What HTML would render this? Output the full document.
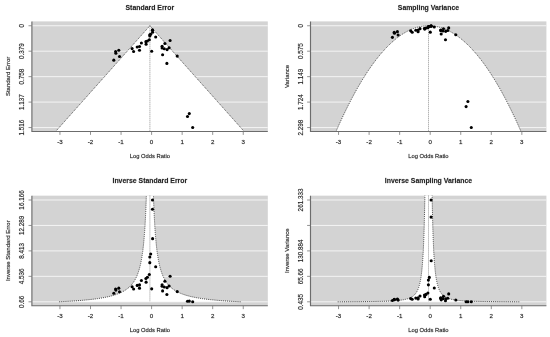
<!DOCTYPE html>
<html><head><meta charset="utf-8"><title>Funnel plots</title>
<style>
html,body{margin:0;padding:0;background:#fff;width:550px;height:337px;overflow:hidden}
svg{display:block}
text{font-family:"Liberation Sans",Arial,sans-serif;fill:#222;stroke:#a0a0a0;stroke-width:0.32px;paint-order:stroke}
.ti{font-size:6.9px;font-weight:bold;text-anchor:middle}
.xl{font-size:6.2px;text-anchor:middle}
.yl{font-size:6.3px;text-anchor:middle}
.xt{font-size:5.8px;text-anchor:middle}
.yt{font-size:6.0px;text-anchor:middle}
circle{fill:#000}
</style></head><body>
<svg width="550" height="337" viewBox="0 0 550 337">
<rect width="550" height="337" fill="#fff"/>
<g transform="translate(0,0)">
<rect x="31.9" y="21.4" width="235.9" height="110.1" fill="#d3d3d3"/>
<line x1="31.9" x2="267.8" y1="25.75" y2="25.75" stroke="#f4f4f4" stroke-width="1"/>
<line x1="31.9" x2="267.8" y1="51.2" y2="51.2" stroke="#f4f4f4" stroke-width="1"/>
<line x1="31.9" x2="267.8" y1="76.65" y2="76.65" stroke="#f4f4f4" stroke-width="1"/>
<line x1="31.9" x2="267.8" y1="102.1" y2="102.1" stroke="#f4f4f4" stroke-width="1"/>
<line x1="31.9" x2="267.8" y1="127.55" y2="127.55" stroke="#f4f4f4" stroke-width="1"/>
<path d="M149.9,25.75 L149.43,26.28 L148.96,26.81 L148.49,27.34 L148.01,27.86 L147.54,28.39 L147.07,28.92 L146.6,29.45 L146.13,29.98 L145.66,30.51 L145.19,31.04 L144.71,31.57 L144.24,32.09 L143.77,32.62 L143.3,33.15 L142.83,33.68 L142.36,34.21 L141.88,34.74 L141.41,35.27 L140.94,35.8 L140.47,36.33 L140,36.85 L139.53,37.38 L139.06,37.91 L138.58,38.44 L138.11,38.97 L137.64,39.5 L137.17,40.03 L136.7,40.55 L136.23,41.08 L135.76,41.61 L135.28,42.14 L134.81,42.67 L134.34,43.2 L133.87,43.73 L133.4,44.26 L132.93,44.78 L132.46,45.31 L131.98,45.84 L131.51,46.37 L131.04,46.9 L130.57,47.43 L130.1,47.96 L129.63,48.49 L129.15,49.02 L128.68,49.54 L128.21,50.07 L127.74,50.6 L127.27,51.13 L126.8,51.66 L126.33,52.19 L125.85,52.72 L125.38,53.25 L124.91,53.77 L124.44,54.3 L123.97,54.83 L123.5,55.36 L123.03,55.89 L122.55,56.42 L122.08,56.95 L121.61,57.47 L121.14,58 L120.67,58.53 L120.2,59.06 L119.72,59.59 L119.25,60.12 L118.78,60.65 L118.31,61.18 L117.84,61.7 L117.37,62.23 L116.9,62.76 L116.42,63.29 L115.95,63.82 L115.48,64.35 L115.01,64.88 L114.54,65.41 L114.07,65.94 L113.6,66.46 L113.12,66.99 L112.65,67.52 L112.18,68.05 L111.71,68.58 L111.24,69.11 L110.77,69.64 L110.3,70.16 L109.82,70.69 L109.35,71.22 L108.88,71.75 L108.41,72.28 L107.94,72.81 L107.47,73.34 L106.99,73.87 L106.52,74.39 L106.05,74.92 L105.58,75.45 L105.11,75.98 L104.64,76.51 L104.17,77.04 L103.69,77.57 L103.22,78.1 L102.75,78.62 L102.28,79.15 L101.81,79.68 L101.34,80.21 L100.87,80.74 L100.39,81.27 L99.92,81.8 L99.45,82.33 L98.98,82.86 L98.51,83.38 L98.04,83.91 L97.57,84.44 L97.09,84.97 L96.62,85.5 L96.15,86.03 L95.68,86.56 L95.21,87.08 L94.74,87.61 L94.26,88.14 L93.79,88.67 L93.32,89.2 L92.85,89.73 L92.38,90.26 L91.91,90.79 L91.44,91.31 L90.96,91.84 L90.49,92.37 L90.02,92.9 L89.55,93.43 L89.08,93.96 L88.61,94.49 L88.14,95.02 L87.66,95.55 L87.19,96.07 L86.72,96.6 L86.25,97.13 L85.78,97.66 L85.31,98.19 L84.83,98.72 L84.36,99.25 L83.89,99.78 L83.42,100.3 L82.95,100.83 L82.48,101.36 L82.01,101.89 L81.53,102.42 L81.06,102.95 L80.59,103.48 L80.12,104 L79.65,104.53 L79.18,105.06 L78.71,105.59 L78.23,106.12 L77.76,106.65 L77.29,107.18 L76.82,107.71 L76.35,108.23 L75.88,108.76 L75.41,109.29 L74.93,109.82 L74.46,110.35 L73.99,110.88 L73.52,111.41 L73.05,111.94 L72.58,112.46 L72.1,112.99 L71.63,113.52 L71.16,114.05 L70.69,114.58 L70.22,115.11 L69.75,115.64 L69.28,116.17 L68.8,116.7 L68.33,117.22 L67.86,117.75 L67.39,118.28 L66.92,118.81 L66.45,119.34 L65.98,119.87 L65.5,120.4 L65.03,120.92 L64.56,121.45 L64.09,121.98 L63.62,122.51 L63.15,123.04 L62.68,123.57 L62.2,124.1 L61.73,124.63 L61.26,125.16 L60.79,125.68 L60.32,126.21 L59.85,126.74 L59.37,127.27 L58.9,127.8 L58.43,128.33 L57.96,128.86 L57.49,129.38 L57.02,129.91 L56.55,130.44 L56.07,130.97 L55.6,131.5 L244.2,131.5 L243.73,130.97 L243.25,130.44 L242.78,129.91 L242.31,129.38 L241.84,128.86 L241.37,128.33 L240.9,127.8 L240.43,127.27 L239.95,126.74 L239.48,126.21 L239.01,125.68 L238.54,125.16 L238.07,124.63 L237.6,124.1 L237.12,123.57 L236.65,123.04 L236.18,122.51 L235.71,121.98 L235.24,121.45 L234.77,120.92 L234.3,120.4 L233.82,119.87 L233.35,119.34 L232.88,118.81 L232.41,118.28 L231.94,117.75 L231.47,117.22 L231,116.7 L230.52,116.17 L230.05,115.64 L229.58,115.11 L229.11,114.58 L228.64,114.05 L228.17,113.52 L227.7,112.99 L227.22,112.46 L226.75,111.94 L226.28,111.41 L225.81,110.88 L225.34,110.35 L224.87,109.82 L224.39,109.29 L223.92,108.76 L223.45,108.23 L222.98,107.71 L222.51,107.18 L222.04,106.65 L221.57,106.12 L221.09,105.59 L220.62,105.06 L220.15,104.53 L219.68,104 L219.21,103.48 L218.74,102.95 L218.27,102.42 L217.79,101.89 L217.32,101.36 L216.85,100.83 L216.38,100.3 L215.91,99.78 L215.44,99.25 L214.97,98.72 L214.49,98.19 L214.02,97.66 L213.55,97.13 L213.08,96.6 L212.61,96.07 L212.14,95.55 L211.66,95.02 L211.19,94.49 L210.72,93.96 L210.25,93.43 L209.78,92.9 L209.31,92.37 L208.84,91.84 L208.36,91.31 L207.89,90.79 L207.42,90.26 L206.95,89.73 L206.48,89.2 L206.01,88.67 L205.54,88.14 L205.06,87.61 L204.59,87.08 L204.12,86.56 L203.65,86.03 L203.18,85.5 L202.71,84.97 L202.23,84.44 L201.76,83.91 L201.29,83.38 L200.82,82.86 L200.35,82.33 L199.88,81.8 L199.41,81.27 L198.93,80.74 L198.46,80.21 L197.99,79.68 L197.52,79.15 L197.05,78.62 L196.58,78.1 L196.11,77.57 L195.63,77.04 L195.16,76.51 L194.69,75.98 L194.22,75.45 L193.75,74.92 L193.28,74.39 L192.81,73.87 L192.33,73.34 L191.86,72.81 L191.39,72.28 L190.92,71.75 L190.45,71.22 L189.98,70.69 L189.5,70.16 L189.03,69.64 L188.56,69.11 L188.09,68.58 L187.62,68.05 L187.15,67.52 L186.68,66.99 L186.2,66.46 L185.73,65.94 L185.26,65.41 L184.79,64.88 L184.32,64.35 L183.85,63.82 L183.38,63.29 L182.9,62.76 L182.43,62.23 L181.96,61.7 L181.49,61.18 L181.02,60.65 L180.55,60.12 L180.08,59.59 L179.6,59.06 L179.13,58.53 L178.66,58 L178.19,57.47 L177.72,56.95 L177.25,56.42 L176.77,55.89 L176.3,55.36 L175.83,54.83 L175.36,54.3 L174.89,53.77 L174.42,53.25 L173.95,52.72 L173.47,52.19 L173,51.66 L172.53,51.13 L172.06,50.6 L171.59,50.07 L171.12,49.54 L170.65,49.02 L170.17,48.49 L169.7,47.96 L169.23,47.43 L168.76,46.9 L168.29,46.37 L167.82,45.84 L167.34,45.31 L166.87,44.78 L166.4,44.26 L165.93,43.73 L165.46,43.2 L164.99,42.67 L164.52,42.14 L164.04,41.61 L163.57,41.08 L163.1,40.55 L162.63,40.03 L162.16,39.5 L161.69,38.97 L161.22,38.44 L160.74,37.91 L160.27,37.38 L159.8,36.85 L159.33,36.33 L158.86,35.8 L158.39,35.27 L157.92,34.74 L157.44,34.21 L156.97,33.68 L156.5,33.15 L156.03,32.62 L155.56,32.09 L155.09,31.57 L154.61,31.04 L154.14,30.51 L153.67,29.98 L153.2,29.45 L152.73,28.92 L152.26,28.39 L151.79,27.86 L151.31,27.34 L150.84,26.81 L150.37,26.28 L149.9,25.75Z" fill="#fff"/>
<path d="M149.9,25.75 L149.43,26.28 L148.96,26.81 L148.49,27.34 L148.01,27.86 L147.54,28.39 L147.07,28.92 L146.6,29.45 L146.13,29.98 L145.66,30.51 L145.19,31.04 L144.71,31.57 L144.24,32.09 L143.77,32.62 L143.3,33.15 L142.83,33.68 L142.36,34.21 L141.88,34.74 L141.41,35.27 L140.94,35.8 L140.47,36.33 L140,36.85 L139.53,37.38 L139.06,37.91 L138.58,38.44 L138.11,38.97 L137.64,39.5 L137.17,40.03 L136.7,40.55 L136.23,41.08 L135.76,41.61 L135.28,42.14 L134.81,42.67 L134.34,43.2 L133.87,43.73 L133.4,44.26 L132.93,44.78 L132.46,45.31 L131.98,45.84 L131.51,46.37 L131.04,46.9 L130.57,47.43 L130.1,47.96 L129.63,48.49 L129.15,49.02 L128.68,49.54 L128.21,50.07 L127.74,50.6 L127.27,51.13 L126.8,51.66 L126.33,52.19 L125.85,52.72 L125.38,53.25 L124.91,53.77 L124.44,54.3 L123.97,54.83 L123.5,55.36 L123.03,55.89 L122.55,56.42 L122.08,56.95 L121.61,57.47 L121.14,58 L120.67,58.53 L120.2,59.06 L119.72,59.59 L119.25,60.12 L118.78,60.65 L118.31,61.18 L117.84,61.7 L117.37,62.23 L116.9,62.76 L116.42,63.29 L115.95,63.82 L115.48,64.35 L115.01,64.88 L114.54,65.41 L114.07,65.94 L113.6,66.46 L113.12,66.99 L112.65,67.52 L112.18,68.05 L111.71,68.58 L111.24,69.11 L110.77,69.64 L110.3,70.16 L109.82,70.69 L109.35,71.22 L108.88,71.75 L108.41,72.28 L107.94,72.81 L107.47,73.34 L106.99,73.87 L106.52,74.39 L106.05,74.92 L105.58,75.45 L105.11,75.98 L104.64,76.51 L104.17,77.04 L103.69,77.57 L103.22,78.1 L102.75,78.62 L102.28,79.15 L101.81,79.68 L101.34,80.21 L100.87,80.74 L100.39,81.27 L99.92,81.8 L99.45,82.33 L98.98,82.86 L98.51,83.38 L98.04,83.91 L97.57,84.44 L97.09,84.97 L96.62,85.5 L96.15,86.03 L95.68,86.56 L95.21,87.08 L94.74,87.61 L94.26,88.14 L93.79,88.67 L93.32,89.2 L92.85,89.73 L92.38,90.26 L91.91,90.79 L91.44,91.31 L90.96,91.84 L90.49,92.37 L90.02,92.9 L89.55,93.43 L89.08,93.96 L88.61,94.49 L88.14,95.02 L87.66,95.55 L87.19,96.07 L86.72,96.6 L86.25,97.13 L85.78,97.66 L85.31,98.19 L84.83,98.72 L84.36,99.25 L83.89,99.78 L83.42,100.3 L82.95,100.83 L82.48,101.36 L82.01,101.89 L81.53,102.42 L81.06,102.95 L80.59,103.48 L80.12,104 L79.65,104.53 L79.18,105.06 L78.71,105.59 L78.23,106.12 L77.76,106.65 L77.29,107.18 L76.82,107.71 L76.35,108.23 L75.88,108.76 L75.41,109.29 L74.93,109.82 L74.46,110.35 L73.99,110.88 L73.52,111.41 L73.05,111.94 L72.58,112.46 L72.1,112.99 L71.63,113.52 L71.16,114.05 L70.69,114.58 L70.22,115.11 L69.75,115.64 L69.28,116.17 L68.8,116.7 L68.33,117.22 L67.86,117.75 L67.39,118.28 L66.92,118.81 L66.45,119.34 L65.98,119.87 L65.5,120.4 L65.03,120.92 L64.56,121.45 L64.09,121.98 L63.62,122.51 L63.15,123.04 L62.68,123.57 L62.2,124.1 L61.73,124.63 L61.26,125.16 L60.79,125.68 L60.32,126.21 L59.85,126.74 L59.37,127.27 L58.9,127.8 L58.43,128.33 L57.96,128.86 L57.49,129.38 L57.02,129.91 L56.55,130.44 L56.07,130.97 L55.6,131.5" fill="none" stroke="#3a3a3a" stroke-width="0.95" stroke-dasharray="1,1.1"/>
<path d="M149.9,25.75 L150.37,26.28 L150.84,26.81 L151.31,27.34 L151.79,27.86 L152.26,28.39 L152.73,28.92 L153.2,29.45 L153.67,29.98 L154.14,30.51 L154.61,31.04 L155.09,31.57 L155.56,32.09 L156.03,32.62 L156.5,33.15 L156.97,33.68 L157.44,34.21 L157.92,34.74 L158.39,35.27 L158.86,35.8 L159.33,36.33 L159.8,36.85 L160.27,37.38 L160.74,37.91 L161.22,38.44 L161.69,38.97 L162.16,39.5 L162.63,40.03 L163.1,40.55 L163.57,41.08 L164.04,41.61 L164.52,42.14 L164.99,42.67 L165.46,43.2 L165.93,43.73 L166.4,44.26 L166.87,44.78 L167.34,45.31 L167.82,45.84 L168.29,46.37 L168.76,46.9 L169.23,47.43 L169.7,47.96 L170.17,48.49 L170.65,49.02 L171.12,49.54 L171.59,50.07 L172.06,50.6 L172.53,51.13 L173,51.66 L173.47,52.19 L173.95,52.72 L174.42,53.25 L174.89,53.77 L175.36,54.3 L175.83,54.83 L176.3,55.36 L176.77,55.89 L177.25,56.42 L177.72,56.95 L178.19,57.47 L178.66,58 L179.13,58.53 L179.6,59.06 L180.08,59.59 L180.55,60.12 L181.02,60.65 L181.49,61.18 L181.96,61.7 L182.43,62.23 L182.9,62.76 L183.38,63.29 L183.85,63.82 L184.32,64.35 L184.79,64.88 L185.26,65.41 L185.73,65.94 L186.2,66.46 L186.68,66.99 L187.15,67.52 L187.62,68.05 L188.09,68.58 L188.56,69.11 L189.03,69.64 L189.5,70.16 L189.98,70.69 L190.45,71.22 L190.92,71.75 L191.39,72.28 L191.86,72.81 L192.33,73.34 L192.81,73.87 L193.28,74.39 L193.75,74.92 L194.22,75.45 L194.69,75.98 L195.16,76.51 L195.63,77.04 L196.11,77.57 L196.58,78.1 L197.05,78.62 L197.52,79.15 L197.99,79.68 L198.46,80.21 L198.93,80.74 L199.41,81.27 L199.88,81.8 L200.35,82.33 L200.82,82.86 L201.29,83.38 L201.76,83.91 L202.23,84.44 L202.71,84.97 L203.18,85.5 L203.65,86.03 L204.12,86.56 L204.59,87.08 L205.06,87.61 L205.54,88.14 L206.01,88.67 L206.48,89.2 L206.95,89.73 L207.42,90.26 L207.89,90.79 L208.36,91.31 L208.84,91.84 L209.31,92.37 L209.78,92.9 L210.25,93.43 L210.72,93.96 L211.19,94.49 L211.66,95.02 L212.14,95.55 L212.61,96.07 L213.08,96.6 L213.55,97.13 L214.02,97.66 L214.49,98.19 L214.97,98.72 L215.44,99.25 L215.91,99.78 L216.38,100.3 L216.85,100.83 L217.32,101.36 L217.79,101.89 L218.27,102.42 L218.74,102.95 L219.21,103.48 L219.68,104 L220.15,104.53 L220.62,105.06 L221.09,105.59 L221.57,106.12 L222.04,106.65 L222.51,107.18 L222.98,107.71 L223.45,108.23 L223.92,108.76 L224.39,109.29 L224.87,109.82 L225.34,110.35 L225.81,110.88 L226.28,111.41 L226.75,111.94 L227.22,112.46 L227.7,112.99 L228.17,113.52 L228.64,114.05 L229.11,114.58 L229.58,115.11 L230.05,115.64 L230.52,116.17 L231,116.7 L231.47,117.22 L231.94,117.75 L232.41,118.28 L232.88,118.81 L233.35,119.34 L233.82,119.87 L234.3,120.4 L234.77,120.92 L235.24,121.45 L235.71,121.98 L236.18,122.51 L236.65,123.04 L237.12,123.57 L237.6,124.1 L238.07,124.63 L238.54,125.16 L239.01,125.68 L239.48,126.21 L239.95,126.74 L240.43,127.27 L240.9,127.8 L241.37,128.33 L241.84,128.86 L242.31,129.38 L242.78,129.91 L243.25,130.44 L243.73,130.97 L244.2,131.5" fill="none" stroke="#3a3a3a" stroke-width="0.95" stroke-dasharray="1,1.1"/>
<line x1="149.9" x2="149.9" y1="25.75" y2="131.5" stroke="#555" stroke-width="0.8" stroke-dasharray="0.8,1.2"/>
<path d="M31.9,21.4 L31.9,131.5 L267.8,131.5" fill="none" stroke="#6c6c6c" stroke-width="1.15"/>
<line x1="28.5" x2="31.9" y1="25.75" y2="25.75" stroke="#777" stroke-width="0.8"/>
<text class="yl" transform="translate(24.2,25.75) rotate(-90)">0</text>
<line x1="28.5" x2="31.9" y1="51.2" y2="51.2" stroke="#777" stroke-width="0.8"/>
<text class="yl" transform="translate(24.2,51.2) rotate(-90)">0.379</text>
<line x1="28.5" x2="31.9" y1="76.65" y2="76.65" stroke="#777" stroke-width="0.8"/>
<text class="yl" transform="translate(24.2,76.65) rotate(-90)">0.758</text>
<line x1="28.5" x2="31.9" y1="102.1" y2="102.1" stroke="#777" stroke-width="0.8"/>
<text class="yl" transform="translate(24.2,102.1) rotate(-90)">1.137</text>
<line x1="28.5" x2="31.9" y1="127.55" y2="127.55" stroke="#777" stroke-width="0.8"/>
<text class="yl" transform="translate(24.2,127.55) rotate(-90)">1.516</text>
<line x1="59.95" x2="59.95" y1="131.5" y2="134.9" stroke="#777" stroke-width="0.8"/>
<text class="xl" x="59.95" y="143.9">-3</text>
<line x1="90.5" x2="90.5" y1="131.5" y2="134.9" stroke="#777" stroke-width="0.8"/>
<text class="xl" x="90.5" y="143.9">-2</text>
<line x1="121.05" x2="121.05" y1="131.5" y2="134.9" stroke="#777" stroke-width="0.8"/>
<text class="xl" x="121.05" y="143.9">-1</text>
<line x1="151.6" x2="151.6" y1="131.5" y2="134.9" stroke="#777" stroke-width="0.8"/>
<text class="xl" x="151.6" y="143.9">0</text>
<line x1="182.15" x2="182.15" y1="131.5" y2="134.9" stroke="#777" stroke-width="0.8"/>
<text class="xl" x="182.15" y="143.9">1</text>
<line x1="212.7" x2="212.7" y1="131.5" y2="134.9" stroke="#777" stroke-width="0.8"/>
<text class="xl" x="212.7" y="143.9">2</text>
<line x1="243.25" x2="243.25" y1="131.5" y2="134.9" stroke="#777" stroke-width="0.8"/>
<text class="xl" x="243.25" y="143.9">3</text>
<text class="xt" x="149.85" y="158.2">Log Odds Ratio</text>
<text class="yt" transform="translate(10.2,76.45) rotate(-90)">Standard Error</text>
<text class="ti" x="149.85" y="10.0">Standard Error</text>
<circle cx="152.49" cy="29.9" r="1.55"/>
<circle cx="152.49" cy="30.3" r="1.55"/>
<circle cx="152.61" cy="32.28" r="1.55"/>
<circle cx="150.71" cy="34.21" r="1.55"/>
<circle cx="149.8" cy="34.71" r="1.55"/>
<circle cx="149.8" cy="35.89" r="1.55"/>
<circle cx="155.69" cy="36.96" r="1.55"/>
<circle cx="149.31" cy="39.72" r="1.55"/>
<circle cx="147.41" cy="40.99" r="1.55"/>
<circle cx="145.89" cy="41.66" r="1.55"/>
<circle cx="141.4" cy="42.94" r="1.55"/>
<circle cx="146.1" cy="44.15" r="1.55"/>
<circle cx="151.69" cy="51.27" r="1.55"/>
<circle cx="132.11" cy="48.58" r="1.55"/>
<circle cx="133.61" cy="51.47" r="1.55"/>
<circle cx="137.21" cy="47.04" r="1.55"/>
<circle cx="139.5" cy="46.5" r="1.55"/>
<circle cx="139.5" cy="50.26" r="1.55"/>
<circle cx="118.79" cy="50.26" r="1.55"/>
<circle cx="115.61" cy="51.47" r="1.55"/>
<circle cx="115.89" cy="53.28" r="1.55"/>
<circle cx="119.52" cy="56.5" r="1.55"/>
<circle cx="113.81" cy="60.13" r="1.55"/>
<circle cx="170.11" cy="40.52" r="1.55"/>
<circle cx="164.89" cy="43.48" r="1.55"/>
<circle cx="164.31" cy="48.72" r="1.55"/>
<circle cx="162.11" cy="46.37" r="1.55"/>
<circle cx="162.11" cy="47.98" r="1.55"/>
<circle cx="167.09" cy="49.59" r="1.55"/>
<circle cx="169.11" cy="47.71" r="1.55"/>
<circle cx="162.6" cy="54.69" r="1.55"/>
<circle cx="177.2" cy="56.1" r="1.55"/>
<circle cx="166.88" cy="63.42" r="1.55"/>
<circle cx="189.3" cy="113.58" r="1.55"/>
<circle cx="187.5" cy="116.47" r="1.55"/>
<circle cx="192.69" cy="127.54" r="1.55"/>
</g>
<g transform="translate(278.6,0)">
<rect x="31.9" y="21.4" width="235.9" height="110.1" fill="#d3d3d3"/>
<line x1="31.9" x2="267.8" y1="25.75" y2="25.75" stroke="#f4f4f4" stroke-width="1"/>
<line x1="31.9" x2="267.8" y1="51.2" y2="51.2" stroke="#f4f4f4" stroke-width="1"/>
<line x1="31.9" x2="267.8" y1="76.65" y2="76.65" stroke="#f4f4f4" stroke-width="1"/>
<line x1="31.9" x2="267.8" y1="102.1" y2="102.1" stroke="#f4f4f4" stroke-width="1"/>
<line x1="31.9" x2="267.8" y1="127.55" y2="127.55" stroke="#f4f4f4" stroke-width="1"/>
<path d="M149.9,25.75 L149.44,25.75 L148.97,25.76 L148.51,25.77 L148.05,25.79 L147.59,25.82 L147.12,25.85 L146.66,25.88 L146.2,25.92 L145.74,25.96 L145.27,26.01 L144.81,26.07 L144.35,26.13 L143.89,26.2 L143.42,26.27 L142.96,26.34 L142.5,26.43 L142.04,26.51 L141.57,26.61 L141.11,26.7 L140.65,26.81 L140.19,26.92 L139.72,27.03 L139.26,27.15 L138.8,27.27 L138.34,27.4 L137.87,27.54 L137.41,27.68 L136.95,27.82 L136.49,27.97 L136.02,28.13 L135.56,28.29 L135.1,28.46 L134.64,28.63 L134.17,28.81 L133.71,28.99 L133.25,29.18 L132.78,29.37 L132.32,29.57 L131.86,29.77 L131.4,29.98 L130.93,30.19 L130.47,30.41 L130.01,30.64 L129.55,30.87 L129.08,31.1 L128.62,31.34 L128.16,31.59 L127.7,31.84 L127.23,32.1 L126.77,32.36 L126.31,32.63 L125.85,32.9 L125.38,33.18 L124.92,33.46 L124.46,33.75 L124,34.04 L123.53,34.34 L123.07,34.64 L122.61,34.95 L122.15,35.27 L121.68,35.59 L121.22,35.91 L120.76,36.24 L120.3,36.58 L119.83,36.92 L119.37,37.27 L118.91,37.62 L118.45,37.97 L117.98,38.34 L117.52,38.7 L117.06,39.08 L116.59,39.46 L116.13,39.84 L115.67,40.23 L115.21,40.62 L114.74,41.02 L114.28,41.42 L113.82,41.83 L113.36,42.25 L112.89,42.67 L112.43,43.1 L111.97,43.53 L111.51,43.96 L111.04,44.4 L110.58,44.85 L110.12,45.3 L109.66,45.76 L109.19,46.22 L108.73,46.69 L108.27,47.16 L107.81,47.64 L107.34,48.13 L106.88,48.62 L106.42,49.11 L105.96,49.61 L105.49,50.11 L105.03,50.63 L104.57,51.14 L104.11,51.66 L103.64,52.19 L103.18,52.72 L102.72,53.26 L102.26,53.8 L101.79,54.34 L101.33,54.9 L100.87,55.46 L100.4,56.02 L99.94,56.59 L99.48,57.16 L99.02,57.74 L98.55,58.32 L98.09,58.91 L97.63,59.51 L97.17,60.11 L96.7,60.71 L96.24,61.32 L95.78,61.94 L95.32,62.56 L94.85,63.19 L94.39,63.82 L93.93,64.46 L93.47,65.1 L93,65.75 L92.54,66.4 L92.08,67.06 L91.62,67.72 L91.15,68.39 L90.69,69.07 L90.23,69.74 L89.77,70.43 L89.3,71.12 L88.84,71.81 L88.38,72.52 L87.92,73.22 L87.45,73.93 L86.99,74.65 L86.53,75.37 L86.07,76.1 L85.6,76.83 L85.14,77.57 L84.68,78.31 L84.21,79.06 L83.75,79.81 L83.29,80.57 L82.83,81.33 L82.36,82.1 L81.9,82.88 L81.44,83.66 L80.98,84.44 L80.51,85.23 L80.05,86.03 L79.59,86.83 L79.13,87.64 L78.66,88.45 L78.2,89.27 L77.74,90.09 L77.28,90.92 L76.81,91.75 L76.35,92.59 L75.89,93.43 L75.43,94.28 L74.96,95.13 L74.5,95.99 L74.04,96.86 L73.58,97.73 L73.11,98.6 L72.65,99.48 L72.19,100.37 L71.73,101.26 L71.26,102.15 L70.8,103.06 L70.34,103.96 L69.88,104.87 L69.41,105.79 L68.95,106.71 L68.49,107.64 L68.02,108.58 L67.56,109.51 L67.1,110.46 L66.64,111.41 L66.17,112.36 L65.71,113.32 L65.25,114.29 L64.79,115.26 L64.32,116.23 L63.86,117.21 L63.4,118.2 L62.94,119.19 L62.47,120.19 L62.01,121.19 L61.55,122.2 L61.09,123.21 L60.62,124.23 L60.16,125.25 L59.7,126.28 L59.24,127.31 L58.77,128.35 L58.31,129.4 L57.85,130.45 L57.39,131.5 L242.41,131.5 L241.95,130.45 L241.49,129.4 L241.03,128.35 L240.56,127.31 L240.1,126.28 L239.64,125.25 L239.18,124.23 L238.71,123.21 L238.25,122.2 L237.79,121.19 L237.33,120.19 L236.86,119.19 L236.4,118.2 L235.94,117.21 L235.48,116.23 L235.01,115.26 L234.55,114.29 L234.09,113.32 L233.63,112.36 L233.16,111.41 L232.7,110.46 L232.24,109.51 L231.78,108.58 L231.31,107.64 L230.85,106.71 L230.39,105.79 L229.92,104.87 L229.46,103.96 L229,103.06 L228.54,102.15 L228.07,101.26 L227.61,100.37 L227.15,99.48 L226.69,98.6 L226.22,97.73 L225.76,96.86 L225.3,95.99 L224.84,95.13 L224.37,94.28 L223.91,93.43 L223.45,92.59 L222.99,91.75 L222.52,90.92 L222.06,90.09 L221.6,89.27 L221.14,88.45 L220.67,87.64 L220.21,86.83 L219.75,86.03 L219.29,85.23 L218.82,84.44 L218.36,83.66 L217.9,82.88 L217.44,82.1 L216.97,81.33 L216.51,80.57 L216.05,79.81 L215.59,79.06 L215.12,78.31 L214.66,77.57 L214.2,76.83 L213.73,76.1 L213.27,75.37 L212.81,74.65 L212.35,73.93 L211.88,73.22 L211.42,72.52 L210.96,71.81 L210.5,71.12 L210.03,70.43 L209.57,69.74 L209.11,69.07 L208.65,68.39 L208.18,67.72 L207.72,67.06 L207.26,66.4 L206.8,65.75 L206.33,65.1 L205.87,64.46 L205.41,63.82 L204.95,63.19 L204.48,62.56 L204.02,61.94 L203.56,61.32 L203.1,60.71 L202.63,60.11 L202.17,59.51 L201.71,58.91 L201.25,58.32 L200.78,57.74 L200.32,57.16 L199.86,56.59 L199.4,56.02 L198.93,55.46 L198.47,54.9 L198.01,54.34 L197.54,53.8 L197.08,53.26 L196.62,52.72 L196.16,52.19 L195.69,51.66 L195.23,51.14 L194.77,50.63 L194.31,50.11 L193.84,49.61 L193.38,49.11 L192.92,48.62 L192.46,48.13 L191.99,47.64 L191.53,47.16 L191.07,46.69 L190.61,46.22 L190.14,45.76 L189.68,45.3 L189.22,44.85 L188.76,44.4 L188.29,43.96 L187.83,43.53 L187.37,43.1 L186.91,42.67 L186.44,42.25 L185.98,41.83 L185.52,41.42 L185.06,41.02 L184.59,40.62 L184.13,40.23 L183.67,39.84 L183.21,39.46 L182.74,39.08 L182.28,38.7 L181.82,38.34 L181.35,37.97 L180.89,37.62 L180.43,37.27 L179.97,36.92 L179.5,36.58 L179.04,36.24 L178.58,35.91 L178.12,35.59 L177.65,35.27 L177.19,34.95 L176.73,34.64 L176.27,34.34 L175.8,34.04 L175.34,33.75 L174.88,33.46 L174.42,33.18 L173.95,32.9 L173.49,32.63 L173.03,32.36 L172.57,32.1 L172.1,31.84 L171.64,31.59 L171.18,31.34 L170.72,31.1 L170.25,30.87 L169.79,30.64 L169.33,30.41 L168.87,30.19 L168.4,29.98 L167.94,29.77 L167.48,29.57 L167.02,29.37 L166.55,29.18 L166.09,28.99 L165.63,28.81 L165.16,28.63 L164.7,28.46 L164.24,28.29 L163.78,28.13 L163.31,27.97 L162.85,27.82 L162.39,27.68 L161.93,27.54 L161.46,27.4 L161,27.27 L160.54,27.15 L160.08,27.03 L159.61,26.92 L159.15,26.81 L158.69,26.7 L158.23,26.61 L157.76,26.51 L157.3,26.43 L156.84,26.34 L156.38,26.27 L155.91,26.2 L155.45,26.13 L154.99,26.07 L154.53,26.01 L154.06,25.96 L153.6,25.92 L153.14,25.88 L152.68,25.85 L152.21,25.82 L151.75,25.79 L151.29,25.77 L150.83,25.76 L150.36,25.75 L149.9,25.75Z" fill="#fff"/>
<path d="M149.9,25.75 L149.44,25.75 L148.97,25.76 L148.51,25.77 L148.05,25.79 L147.59,25.82 L147.12,25.85 L146.66,25.88 L146.2,25.92 L145.74,25.96 L145.27,26.01 L144.81,26.07 L144.35,26.13 L143.89,26.2 L143.42,26.27 L142.96,26.34 L142.5,26.43 L142.04,26.51 L141.57,26.61 L141.11,26.7 L140.65,26.81 L140.19,26.92 L139.72,27.03 L139.26,27.15 L138.8,27.27 L138.34,27.4 L137.87,27.54 L137.41,27.68 L136.95,27.82 L136.49,27.97 L136.02,28.13 L135.56,28.29 L135.1,28.46 L134.64,28.63 L134.17,28.81 L133.71,28.99 L133.25,29.18 L132.78,29.37 L132.32,29.57 L131.86,29.77 L131.4,29.98 L130.93,30.19 L130.47,30.41 L130.01,30.64 L129.55,30.87 L129.08,31.1 L128.62,31.34 L128.16,31.59 L127.7,31.84 L127.23,32.1 L126.77,32.36 L126.31,32.63 L125.85,32.9 L125.38,33.18 L124.92,33.46 L124.46,33.75 L124,34.04 L123.53,34.34 L123.07,34.64 L122.61,34.95 L122.15,35.27 L121.68,35.59 L121.22,35.91 L120.76,36.24 L120.3,36.58 L119.83,36.92 L119.37,37.27 L118.91,37.62 L118.45,37.97 L117.98,38.34 L117.52,38.7 L117.06,39.08 L116.59,39.46 L116.13,39.84 L115.67,40.23 L115.21,40.62 L114.74,41.02 L114.28,41.42 L113.82,41.83 L113.36,42.25 L112.89,42.67 L112.43,43.1 L111.97,43.53 L111.51,43.96 L111.04,44.4 L110.58,44.85 L110.12,45.3 L109.66,45.76 L109.19,46.22 L108.73,46.69 L108.27,47.16 L107.81,47.64 L107.34,48.13 L106.88,48.62 L106.42,49.11 L105.96,49.61 L105.49,50.11 L105.03,50.63 L104.57,51.14 L104.11,51.66 L103.64,52.19 L103.18,52.72 L102.72,53.26 L102.26,53.8 L101.79,54.34 L101.33,54.9 L100.87,55.46 L100.4,56.02 L99.94,56.59 L99.48,57.16 L99.02,57.74 L98.55,58.32 L98.09,58.91 L97.63,59.51 L97.17,60.11 L96.7,60.71 L96.24,61.32 L95.78,61.94 L95.32,62.56 L94.85,63.19 L94.39,63.82 L93.93,64.46 L93.47,65.1 L93,65.75 L92.54,66.4 L92.08,67.06 L91.62,67.72 L91.15,68.39 L90.69,69.07 L90.23,69.74 L89.77,70.43 L89.3,71.12 L88.84,71.81 L88.38,72.52 L87.92,73.22 L87.45,73.93 L86.99,74.65 L86.53,75.37 L86.07,76.1 L85.6,76.83 L85.14,77.57 L84.68,78.31 L84.21,79.06 L83.75,79.81 L83.29,80.57 L82.83,81.33 L82.36,82.1 L81.9,82.88 L81.44,83.66 L80.98,84.44 L80.51,85.23 L80.05,86.03 L79.59,86.83 L79.13,87.64 L78.66,88.45 L78.2,89.27 L77.74,90.09 L77.28,90.92 L76.81,91.75 L76.35,92.59 L75.89,93.43 L75.43,94.28 L74.96,95.13 L74.5,95.99 L74.04,96.86 L73.58,97.73 L73.11,98.6 L72.65,99.48 L72.19,100.37 L71.73,101.26 L71.26,102.15 L70.8,103.06 L70.34,103.96 L69.88,104.87 L69.41,105.79 L68.95,106.71 L68.49,107.64 L68.02,108.58 L67.56,109.51 L67.1,110.46 L66.64,111.41 L66.17,112.36 L65.71,113.32 L65.25,114.29 L64.79,115.26 L64.32,116.23 L63.86,117.21 L63.4,118.2 L62.94,119.19 L62.47,120.19 L62.01,121.19 L61.55,122.2 L61.09,123.21 L60.62,124.23 L60.16,125.25 L59.7,126.28 L59.24,127.31 L58.77,128.35 L58.31,129.4 L57.85,130.45 L57.39,131.5" fill="none" stroke="#3a3a3a" stroke-width="0.95" stroke-dasharray="1,1.1"/>
<path d="M149.9,25.75 L150.36,25.75 L150.83,25.76 L151.29,25.77 L151.75,25.79 L152.21,25.82 L152.68,25.85 L153.14,25.88 L153.6,25.92 L154.06,25.96 L154.53,26.01 L154.99,26.07 L155.45,26.13 L155.91,26.2 L156.38,26.27 L156.84,26.34 L157.3,26.43 L157.76,26.51 L158.23,26.61 L158.69,26.7 L159.15,26.81 L159.61,26.92 L160.08,27.03 L160.54,27.15 L161,27.27 L161.46,27.4 L161.93,27.54 L162.39,27.68 L162.85,27.82 L163.31,27.97 L163.78,28.13 L164.24,28.29 L164.7,28.46 L165.16,28.63 L165.63,28.81 L166.09,28.99 L166.55,29.18 L167.02,29.37 L167.48,29.57 L167.94,29.77 L168.4,29.98 L168.87,30.19 L169.33,30.41 L169.79,30.64 L170.25,30.87 L170.72,31.1 L171.18,31.34 L171.64,31.59 L172.1,31.84 L172.57,32.1 L173.03,32.36 L173.49,32.63 L173.95,32.9 L174.42,33.18 L174.88,33.46 L175.34,33.75 L175.8,34.04 L176.27,34.34 L176.73,34.64 L177.19,34.95 L177.65,35.27 L178.12,35.59 L178.58,35.91 L179.04,36.24 L179.5,36.58 L179.97,36.92 L180.43,37.27 L180.89,37.62 L181.35,37.97 L181.82,38.34 L182.28,38.7 L182.74,39.08 L183.21,39.46 L183.67,39.84 L184.13,40.23 L184.59,40.62 L185.06,41.02 L185.52,41.42 L185.98,41.83 L186.44,42.25 L186.91,42.67 L187.37,43.1 L187.83,43.53 L188.29,43.96 L188.76,44.4 L189.22,44.85 L189.68,45.3 L190.14,45.76 L190.61,46.22 L191.07,46.69 L191.53,47.16 L191.99,47.64 L192.46,48.13 L192.92,48.62 L193.38,49.11 L193.84,49.61 L194.31,50.11 L194.77,50.63 L195.23,51.14 L195.69,51.66 L196.16,52.19 L196.62,52.72 L197.08,53.26 L197.54,53.8 L198.01,54.34 L198.47,54.9 L198.93,55.46 L199.4,56.02 L199.86,56.59 L200.32,57.16 L200.78,57.74 L201.25,58.32 L201.71,58.91 L202.17,59.51 L202.63,60.11 L203.1,60.71 L203.56,61.32 L204.02,61.94 L204.48,62.56 L204.95,63.19 L205.41,63.82 L205.87,64.46 L206.33,65.1 L206.8,65.75 L207.26,66.4 L207.72,67.06 L208.18,67.72 L208.65,68.39 L209.11,69.07 L209.57,69.74 L210.03,70.43 L210.5,71.12 L210.96,71.81 L211.42,72.52 L211.88,73.22 L212.35,73.93 L212.81,74.65 L213.27,75.37 L213.73,76.1 L214.2,76.83 L214.66,77.57 L215.12,78.31 L215.59,79.06 L216.05,79.81 L216.51,80.57 L216.97,81.33 L217.44,82.1 L217.9,82.88 L218.36,83.66 L218.82,84.44 L219.29,85.23 L219.75,86.03 L220.21,86.83 L220.67,87.64 L221.14,88.45 L221.6,89.27 L222.06,90.09 L222.52,90.92 L222.99,91.75 L223.45,92.59 L223.91,93.43 L224.37,94.28 L224.84,95.13 L225.3,95.99 L225.76,96.86 L226.22,97.73 L226.69,98.6 L227.15,99.48 L227.61,100.37 L228.07,101.26 L228.54,102.15 L229,103.06 L229.46,103.96 L229.92,104.87 L230.39,105.79 L230.85,106.71 L231.31,107.64 L231.78,108.58 L232.24,109.51 L232.7,110.46 L233.16,111.41 L233.63,112.36 L234.09,113.32 L234.55,114.29 L235.01,115.26 L235.48,116.23 L235.94,117.21 L236.4,118.2 L236.86,119.19 L237.33,120.19 L237.79,121.19 L238.25,122.2 L238.71,123.21 L239.18,124.23 L239.64,125.25 L240.1,126.28 L240.56,127.31 L241.03,128.35 L241.49,129.4 L241.95,130.45 L242.41,131.5" fill="none" stroke="#3a3a3a" stroke-width="0.95" stroke-dasharray="1,1.1"/>
<line x1="149.9" x2="149.9" y1="25.75" y2="131.5" stroke="#555" stroke-width="0.8" stroke-dasharray="0.8,1.2"/>
<path d="M31.9,21.4 L31.9,131.5 L267.8,131.5" fill="none" stroke="#6c6c6c" stroke-width="1.15"/>
<line x1="28.5" x2="31.9" y1="25.75" y2="25.75" stroke="#777" stroke-width="0.8"/>
<text class="yl" transform="translate(24.2,25.75) rotate(-90)">0</text>
<line x1="28.5" x2="31.9" y1="51.2" y2="51.2" stroke="#777" stroke-width="0.8"/>
<text class="yl" transform="translate(24.2,51.2) rotate(-90)">0.575</text>
<line x1="28.5" x2="31.9" y1="76.65" y2="76.65" stroke="#777" stroke-width="0.8"/>
<text class="yl" transform="translate(24.2,76.65) rotate(-90)">1.149</text>
<line x1="28.5" x2="31.9" y1="102.1" y2="102.1" stroke="#777" stroke-width="0.8"/>
<text class="yl" transform="translate(24.2,102.1) rotate(-90)">1.724</text>
<line x1="28.5" x2="31.9" y1="127.55" y2="127.55" stroke="#777" stroke-width="0.8"/>
<text class="yl" transform="translate(24.2,127.55) rotate(-90)">2.298</text>
<line x1="59.95" x2="59.95" y1="131.5" y2="134.9" stroke="#777" stroke-width="0.8"/>
<text class="xl" x="59.95" y="143.9">-3</text>
<line x1="90.5" x2="90.5" y1="131.5" y2="134.9" stroke="#777" stroke-width="0.8"/>
<text class="xl" x="90.5" y="143.9">-2</text>
<line x1="121.05" x2="121.05" y1="131.5" y2="134.9" stroke="#777" stroke-width="0.8"/>
<text class="xl" x="121.05" y="143.9">-1</text>
<line x1="151.6" x2="151.6" y1="131.5" y2="134.9" stroke="#777" stroke-width="0.8"/>
<text class="xl" x="151.6" y="143.9">0</text>
<line x1="182.15" x2="182.15" y1="131.5" y2="134.9" stroke="#777" stroke-width="0.8"/>
<text class="xl" x="182.15" y="143.9">1</text>
<line x1="212.7" x2="212.7" y1="131.5" y2="134.9" stroke="#777" stroke-width="0.8"/>
<text class="xl" x="212.7" y="143.9">2</text>
<line x1="243.25" x2="243.25" y1="131.5" y2="134.9" stroke="#777" stroke-width="0.8"/>
<text class="xl" x="243.25" y="143.9">3</text>
<text class="xt" x="149.85" y="158.2">Log Odds Ratio</text>
<text class="yt" transform="translate(10.2,76.45) rotate(-90)">Variance</text>
<text class="ti" x="149.85" y="10.0">Sampling Variance</text>
<circle cx="152.49" cy="25.92" r="1.55"/>
<circle cx="152.49" cy="25.95" r="1.55"/>
<circle cx="152.61" cy="26.17" r="1.55"/>
<circle cx="150.71" cy="26.45" r="1.55"/>
<circle cx="149.8" cy="26.54" r="1.55"/>
<circle cx="149.8" cy="26.76" r="1.55"/>
<circle cx="155.69" cy="26.99" r="1.55"/>
<circle cx="149.31" cy="27.67" r="1.55"/>
<circle cx="147.41" cy="28.03" r="1.55"/>
<circle cx="145.89" cy="28.24" r="1.55"/>
<circle cx="141.4" cy="28.65" r="1.55"/>
<circle cx="146.1" cy="29.08" r="1.55"/>
<circle cx="151.69" cy="32.15" r="1.55"/>
<circle cx="132.11" cy="30.87" r="1.55"/>
<circle cx="133.61" cy="32.25" r="1.55"/>
<circle cx="137.21" cy="30.2" r="1.55"/>
<circle cx="139.5" cy="29.98" r="1.55"/>
<circle cx="139.5" cy="31.65" r="1.55"/>
<circle cx="118.79" cy="31.65" r="1.55"/>
<circle cx="115.61" cy="32.25" r="1.55"/>
<circle cx="115.89" cy="33.2" r="1.55"/>
<circle cx="119.52" cy="35.04" r="1.55"/>
<circle cx="113.81" cy="37.36" r="1.55"/>
<circle cx="170.11" cy="27.89" r="1.55"/>
<circle cx="164.89" cy="28.84" r="1.55"/>
<circle cx="164.31" cy="30.93" r="1.55"/>
<circle cx="162.11" cy="29.93" r="1.55"/>
<circle cx="162.11" cy="30.6" r="1.55"/>
<circle cx="167.09" cy="31.33" r="1.55"/>
<circle cx="169.11" cy="30.49" r="1.55"/>
<circle cx="162.6" cy="33.98" r="1.55"/>
<circle cx="177.2" cy="34.8" r="1.55"/>
<circle cx="166.88" cy="39.69" r="1.55"/>
<circle cx="189.3" cy="101.54" r="1.55"/>
<circle cx="187.5" cy="106.61" r="1.55"/>
<circle cx="192.69" cy="127.55" r="1.55"/>
</g>
<g transform="translate(0,174.25)">
<rect x="31.9" y="21.4" width="235.9" height="110.1" fill="#d3d3d3"/>
<line x1="31.9" x2="267.8" y1="25.75" y2="25.75" stroke="#f4f4f4" stroke-width="1"/>
<line x1="31.9" x2="267.8" y1="51.2" y2="51.2" stroke="#f4f4f4" stroke-width="1"/>
<line x1="31.9" x2="267.8" y1="76.65" y2="76.65" stroke="#f4f4f4" stroke-width="1"/>
<line x1="31.9" x2="267.8" y1="102.1" y2="102.1" stroke="#f4f4f4" stroke-width="1"/>
<line x1="31.9" x2="267.8" y1="127.55" y2="127.55" stroke="#f4f4f4" stroke-width="1"/>
<path d="M59.18,127.55 L69.08,127.02 L77.03,126.49 L83.56,125.96 L89.01,125.43 L93.64,124.9 L97.61,124.37 L101.06,123.83 L104.08,123.3 L106.75,122.77 L109.12,122.24 L111.25,121.71 L113.17,121.18 L114.9,120.65 L116.48,120.12 L117.92,119.59 L119.25,119.06 L120.47,118.53 L121.59,118 L122.63,117.47 L123.6,116.94 L124.5,116.4 L125.35,115.87 L126.13,115.34 L126.87,114.81 L127.57,114.28 L128.22,113.75 L128.84,113.22 L129.42,112.69 L129.97,112.16 L130.49,111.63 L130.99,111.1 L131.46,110.57 L131.91,110.04 L132.33,109.5 L132.74,108.97 L133.13,108.44 L133.5,107.91 L133.86,107.38 L134.2,106.85 L134.52,106.32 L134.83,105.79 L135.14,105.26 L135.42,104.73 L135.7,104.2 L135.97,103.67 L136.23,103.14 L136.47,102.6 L136.71,102.07 L136.94,101.54 L137.17,101.01 L137.38,100.48 L137.59,99.95 L137.79,99.42 L137.99,98.89 L138.17,98.36 L138.36,97.83 L138.53,97.3 L138.71,96.77 L138.87,96.24 L139.03,95.7 L139.19,95.17 L139.34,94.64 L139.49,94.11 L139.64,93.58 L139.78,93.05 L139.91,92.52 L140.05,91.99 L140.18,91.46 L140.3,90.93 L140.42,90.4 L140.54,89.87 L140.66,89.34 L140.77,88.81 L140.89,88.27 L140.99,87.74 L141.1,87.21 L141.2,86.68 L141.3,86.15 L141.4,85.62 L141.5,85.09 L141.59,84.56 L141.69,84.03 L141.78,83.5 L141.86,82.97 L141.95,82.44 L142.03,81.91 L142.12,81.37 L142.2,80.84 L142.28,80.31 L142.35,79.78 L142.43,79.25 L142.51,78.72 L142.58,78.19 L142.65,77.66 L142.72,77.13 L142.79,76.6 L142.86,76.07 L142.92,75.54 L142.99,75.01 L143.05,74.48 L143.12,73.94 L143.18,73.41 L143.24,72.88 L143.3,72.35 L143.35,71.82 L143.41,71.29 L143.47,70.76 L143.52,70.23 L143.58,69.7 L143.63,69.17 L143.68,68.64 L143.74,68.11 L143.79,67.58 L143.84,67.04 L143.89,66.51 L143.93,65.98 L143.98,65.45 L144.03,64.92 L144.08,64.39 L144.12,63.86 L144.17,63.33 L144.21,62.8 L144.25,62.27 L144.3,61.74 L144.34,61.21 L144.38,60.68 L144.42,60.14 L144.46,59.61 L144.5,59.08 L144.54,58.55 L144.58,58.02 L144.62,57.49 L144.65,56.96 L144.69,56.43 L144.73,55.9 L144.76,55.37 L144.8,54.84 L144.83,54.31 L144.87,53.78 L144.9,53.25 L144.93,52.71 L144.97,52.18 L145,51.65 L145.03,51.12 L145.06,50.59 L145.1,50.06 L145.13,49.53 L145.16,49 L145.19,48.47 L145.22,47.94 L145.25,47.41 L145.28,46.88 L145.3,46.35 L145.33,45.81 L145.36,45.28 L145.39,44.75 L145.42,44.22 L145.44,43.69 L145.47,43.16 L145.5,42.63 L145.52,42.1 L145.55,41.57 L145.57,41.04 L145.6,40.51 L145.62,39.98 L145.65,39.45 L145.67,38.91 L145.7,38.38 L145.72,37.85 L145.74,37.32 L145.77,36.79 L145.79,36.26 L145.81,35.73 L145.83,35.2 L145.86,34.67 L145.88,34.14 L145.9,33.61 L145.92,33.08 L145.94,32.55 L145.96,32.02 L145.98,31.48 L146.01,30.95 L146.03,30.42 L146.05,29.89 L146.07,29.36 L146.09,28.83 L146.1,28.3 L146.12,27.77 L146.14,27.24 L146.16,26.71 L146.18,26.18 L146.2,25.65 L146.22,25.12 L146.24,24.58 L146.25,24.05 L146.27,23.52 L146.29,22.99 L146.31,22.46 L146.32,21.93 L146.34,21.4 L153.46,21.4 L153.48,21.93 L153.49,22.46 L153.51,22.99 L153.53,23.52 L153.55,24.05 L153.56,24.58 L153.58,25.12 L153.6,25.65 L153.62,26.18 L153.64,26.71 L153.66,27.24 L153.68,27.77 L153.7,28.3 L153.71,28.83 L153.73,29.36 L153.75,29.89 L153.77,30.42 L153.79,30.95 L153.82,31.48 L153.84,32.02 L153.86,32.55 L153.88,33.08 L153.9,33.61 L153.92,34.14 L153.94,34.67 L153.97,35.2 L153.99,35.73 L154.01,36.26 L154.03,36.79 L154.06,37.32 L154.08,37.85 L154.1,38.38 L154.13,38.91 L154.15,39.45 L154.18,39.98 L154.2,40.51 L154.23,41.04 L154.25,41.57 L154.28,42.1 L154.3,42.63 L154.33,43.16 L154.36,43.69 L154.38,44.22 L154.41,44.75 L154.44,45.28 L154.47,45.81 L154.5,46.35 L154.52,46.88 L154.55,47.41 L154.58,47.94 L154.61,48.47 L154.64,49 L154.67,49.53 L154.7,50.06 L154.74,50.59 L154.77,51.12 L154.8,51.65 L154.83,52.18 L154.87,52.71 L154.9,53.25 L154.93,53.78 L154.97,54.31 L155,54.84 L155.04,55.37 L155.07,55.9 L155.11,56.43 L155.15,56.96 L155.18,57.49 L155.22,58.02 L155.26,58.55 L155.3,59.08 L155.34,59.61 L155.38,60.14 L155.42,60.68 L155.46,61.21 L155.5,61.74 L155.55,62.27 L155.59,62.8 L155.63,63.33 L155.68,63.86 L155.72,64.39 L155.77,64.92 L155.82,65.45 L155.87,65.98 L155.91,66.51 L155.96,67.04 L156.01,67.58 L156.06,68.11 L156.12,68.64 L156.17,69.17 L156.22,69.7 L156.28,70.23 L156.33,70.76 L156.39,71.29 L156.45,71.82 L156.5,72.35 L156.56,72.88 L156.62,73.41 L156.68,73.94 L156.75,74.48 L156.81,75.01 L156.88,75.54 L156.94,76.07 L157.01,76.6 L157.08,77.13 L157.15,77.66 L157.22,78.19 L157.29,78.72 L157.37,79.25 L157.45,79.78 L157.52,80.31 L157.6,80.84 L157.68,81.37 L157.77,81.91 L157.85,82.44 L157.94,82.97 L158.02,83.5 L158.11,84.03 L158.21,84.56 L158.3,85.09 L158.4,85.62 L158.5,86.15 L158.6,86.68 L158.7,87.21 L158.81,87.74 L158.91,88.27 L159.03,88.81 L159.14,89.34 L159.26,89.87 L159.38,90.4 L159.5,90.93 L159.62,91.46 L159.75,91.99 L159.89,92.52 L160.02,93.05 L160.16,93.58 L160.31,94.11 L160.46,94.64 L160.61,95.17 L160.77,95.7 L160.93,96.24 L161.09,96.77 L161.27,97.3 L161.44,97.83 L161.63,98.36 L161.81,98.89 L162.01,99.42 L162.21,99.95 L162.42,100.48 L162.63,101.01 L162.86,101.54 L163.09,102.07 L163.33,102.6 L163.57,103.14 L163.83,103.67 L164.1,104.2 L164.38,104.73 L164.66,105.26 L164.97,105.79 L165.28,106.32 L165.6,106.85 L165.94,107.38 L166.3,107.91 L166.67,108.44 L167.06,108.97 L167.47,109.5 L167.89,110.04 L168.34,110.57 L168.81,111.1 L169.31,111.63 L169.83,112.16 L170.38,112.69 L170.96,113.22 L171.58,113.75 L172.23,114.28 L172.93,114.81 L173.67,115.34 L174.45,115.87 L175.3,116.4 L176.2,116.94 L177.17,117.47 L178.21,118 L179.33,118.53 L180.55,119.06 L181.88,119.59 L183.32,120.12 L184.9,120.65 L186.63,121.18 L188.55,121.71 L190.68,122.24 L193.05,122.77 L195.72,123.3 L198.74,123.83 L202.19,124.37 L206.16,124.9 L210.79,125.43 L216.24,125.96 L222.77,126.49 L230.72,127.02 L240.62,127.55Z" fill="#fff"/>
<path d="M59.18,127.55 L69.08,127.02 L77.03,126.49 L83.56,125.96 L89.01,125.43 L93.64,124.9 L97.61,124.37 L101.06,123.83 L104.08,123.3 L106.75,122.77 L109.12,122.24 L111.25,121.71 L113.17,121.18 L114.9,120.65 L116.48,120.12 L117.92,119.59 L119.25,119.06 L120.47,118.53 L121.59,118 L122.63,117.47 L123.6,116.94 L124.5,116.4 L125.35,115.87 L126.13,115.34 L126.87,114.81 L127.57,114.28 L128.22,113.75 L128.84,113.22 L129.42,112.69 L129.97,112.16 L130.49,111.63 L130.99,111.1 L131.46,110.57 L131.91,110.04 L132.33,109.5 L132.74,108.97 L133.13,108.44 L133.5,107.91 L133.86,107.38 L134.2,106.85 L134.52,106.32 L134.83,105.79 L135.14,105.26 L135.42,104.73 L135.7,104.2 L135.97,103.67 L136.23,103.14 L136.47,102.6 L136.71,102.07 L136.94,101.54 L137.17,101.01 L137.38,100.48 L137.59,99.95 L137.79,99.42 L137.99,98.89 L138.17,98.36 L138.36,97.83 L138.53,97.3 L138.71,96.77 L138.87,96.24 L139.03,95.7 L139.19,95.17 L139.34,94.64 L139.49,94.11 L139.64,93.58 L139.78,93.05 L139.91,92.52 L140.05,91.99 L140.18,91.46 L140.3,90.93 L140.42,90.4 L140.54,89.87 L140.66,89.34 L140.77,88.81 L140.89,88.27 L140.99,87.74 L141.1,87.21 L141.2,86.68 L141.3,86.15 L141.4,85.62 L141.5,85.09 L141.59,84.56 L141.69,84.03 L141.78,83.5 L141.86,82.97 L141.95,82.44 L142.03,81.91 L142.12,81.37 L142.2,80.84 L142.28,80.31 L142.35,79.78 L142.43,79.25 L142.51,78.72 L142.58,78.19 L142.65,77.66 L142.72,77.13 L142.79,76.6 L142.86,76.07 L142.92,75.54 L142.99,75.01 L143.05,74.48 L143.12,73.94 L143.18,73.41 L143.24,72.88 L143.3,72.35 L143.35,71.82 L143.41,71.29 L143.47,70.76 L143.52,70.23 L143.58,69.7 L143.63,69.17 L143.68,68.64 L143.74,68.11 L143.79,67.58 L143.84,67.04 L143.89,66.51 L143.93,65.98 L143.98,65.45 L144.03,64.92 L144.08,64.39 L144.12,63.86 L144.17,63.33 L144.21,62.8 L144.25,62.27 L144.3,61.74 L144.34,61.21 L144.38,60.68 L144.42,60.14 L144.46,59.61 L144.5,59.08 L144.54,58.55 L144.58,58.02 L144.62,57.49 L144.65,56.96 L144.69,56.43 L144.73,55.9 L144.76,55.37 L144.8,54.84 L144.83,54.31 L144.87,53.78 L144.9,53.25 L144.93,52.71 L144.97,52.18 L145,51.65 L145.03,51.12 L145.06,50.59 L145.1,50.06 L145.13,49.53 L145.16,49 L145.19,48.47 L145.22,47.94 L145.25,47.41 L145.28,46.88 L145.3,46.35 L145.33,45.81 L145.36,45.28 L145.39,44.75 L145.42,44.22 L145.44,43.69 L145.47,43.16 L145.5,42.63 L145.52,42.1 L145.55,41.57 L145.57,41.04 L145.6,40.51 L145.62,39.98 L145.65,39.45 L145.67,38.91 L145.7,38.38 L145.72,37.85 L145.74,37.32 L145.77,36.79 L145.79,36.26 L145.81,35.73 L145.83,35.2 L145.86,34.67 L145.88,34.14 L145.9,33.61 L145.92,33.08 L145.94,32.55 L145.96,32.02 L145.98,31.48 L146.01,30.95 L146.03,30.42 L146.05,29.89 L146.07,29.36 L146.09,28.83 L146.1,28.3 L146.12,27.77 L146.14,27.24 L146.16,26.71 L146.18,26.18 L146.2,25.65 L146.22,25.12 L146.24,24.58 L146.25,24.05 L146.27,23.52 L146.29,22.99 L146.31,22.46 L146.32,21.93 L146.34,21.4" fill="none" stroke="#3a3a3a" stroke-width="0.95" stroke-dasharray="1,1.1"/>
<path d="M240.62,127.55 L230.72,127.02 L222.77,126.49 L216.24,125.96 L210.79,125.43 L206.16,124.9 L202.19,124.37 L198.74,123.83 L195.72,123.3 L193.05,122.77 L190.68,122.24 L188.55,121.71 L186.63,121.18 L184.9,120.65 L183.32,120.12 L181.88,119.59 L180.55,119.06 L179.33,118.53 L178.21,118 L177.17,117.47 L176.2,116.94 L175.3,116.4 L174.45,115.87 L173.67,115.34 L172.93,114.81 L172.23,114.28 L171.58,113.75 L170.96,113.22 L170.38,112.69 L169.83,112.16 L169.31,111.63 L168.81,111.1 L168.34,110.57 L167.89,110.04 L167.47,109.5 L167.06,108.97 L166.67,108.44 L166.3,107.91 L165.94,107.38 L165.6,106.85 L165.28,106.32 L164.97,105.79 L164.66,105.26 L164.38,104.73 L164.1,104.2 L163.83,103.67 L163.57,103.14 L163.33,102.6 L163.09,102.07 L162.86,101.54 L162.63,101.01 L162.42,100.48 L162.21,99.95 L162.01,99.42 L161.81,98.89 L161.63,98.36 L161.44,97.83 L161.27,97.3 L161.09,96.77 L160.93,96.24 L160.77,95.7 L160.61,95.17 L160.46,94.64 L160.31,94.11 L160.16,93.58 L160.02,93.05 L159.89,92.52 L159.75,91.99 L159.62,91.46 L159.5,90.93 L159.38,90.4 L159.26,89.87 L159.14,89.34 L159.03,88.81 L158.91,88.27 L158.81,87.74 L158.7,87.21 L158.6,86.68 L158.5,86.15 L158.4,85.62 L158.3,85.09 L158.21,84.56 L158.11,84.03 L158.02,83.5 L157.94,82.97 L157.85,82.44 L157.77,81.91 L157.68,81.37 L157.6,80.84 L157.52,80.31 L157.45,79.78 L157.37,79.25 L157.29,78.72 L157.22,78.19 L157.15,77.66 L157.08,77.13 L157.01,76.6 L156.94,76.07 L156.88,75.54 L156.81,75.01 L156.75,74.48 L156.68,73.94 L156.62,73.41 L156.56,72.88 L156.5,72.35 L156.45,71.82 L156.39,71.29 L156.33,70.76 L156.28,70.23 L156.22,69.7 L156.17,69.17 L156.12,68.64 L156.06,68.11 L156.01,67.58 L155.96,67.04 L155.91,66.51 L155.87,65.98 L155.82,65.45 L155.77,64.92 L155.72,64.39 L155.68,63.86 L155.63,63.33 L155.59,62.8 L155.55,62.27 L155.5,61.74 L155.46,61.21 L155.42,60.68 L155.38,60.14 L155.34,59.61 L155.3,59.08 L155.26,58.55 L155.22,58.02 L155.18,57.49 L155.15,56.96 L155.11,56.43 L155.07,55.9 L155.04,55.37 L155,54.84 L154.97,54.31 L154.93,53.78 L154.9,53.25 L154.87,52.71 L154.83,52.18 L154.8,51.65 L154.77,51.12 L154.74,50.59 L154.7,50.06 L154.67,49.53 L154.64,49 L154.61,48.47 L154.58,47.94 L154.55,47.41 L154.52,46.88 L154.5,46.35 L154.47,45.81 L154.44,45.28 L154.41,44.75 L154.38,44.22 L154.36,43.69 L154.33,43.16 L154.3,42.63 L154.28,42.1 L154.25,41.57 L154.23,41.04 L154.2,40.51 L154.18,39.98 L154.15,39.45 L154.13,38.91 L154.1,38.38 L154.08,37.85 L154.06,37.32 L154.03,36.79 L154.01,36.26 L153.99,35.73 L153.97,35.2 L153.94,34.67 L153.92,34.14 L153.9,33.61 L153.88,33.08 L153.86,32.55 L153.84,32.02 L153.82,31.48 L153.79,30.95 L153.77,30.42 L153.75,29.89 L153.73,29.36 L153.71,28.83 L153.7,28.3 L153.68,27.77 L153.66,27.24 L153.64,26.71 L153.62,26.18 L153.6,25.65 L153.58,25.12 L153.56,24.58 L153.55,24.05 L153.53,23.52 L153.51,22.99 L153.49,22.46 L153.48,21.93 L153.46,21.4" fill="none" stroke="#3a3a3a" stroke-width="0.95" stroke-dasharray="1,1.1"/>
<line x1="149.9" x2="149.9" y1="21.4" y2="127.55" stroke="#555" stroke-width="0.8" stroke-dasharray="0.8,1.2"/>
<path d="M31.9,21.4 L31.9,131.5 L267.8,131.5" fill="none" stroke="#6c6c6c" stroke-width="1.15"/>
<line x1="28.5" x2="31.9" y1="25.75" y2="25.75" stroke="#777" stroke-width="0.8"/>
<text class="yl" transform="translate(24.2,25.75) rotate(-90)">16.166</text>
<line x1="28.5" x2="31.9" y1="51.2" y2="51.2" stroke="#777" stroke-width="0.8"/>
<text class="yl" transform="translate(24.2,51.2) rotate(-90)">12.289</text>
<line x1="28.5" x2="31.9" y1="76.65" y2="76.65" stroke="#777" stroke-width="0.8"/>
<text class="yl" transform="translate(24.2,76.65) rotate(-90)">8.413</text>
<line x1="28.5" x2="31.9" y1="102.1" y2="102.1" stroke="#777" stroke-width="0.8"/>
<text class="yl" transform="translate(24.2,102.1) rotate(-90)">4.536</text>
<line x1="28.5" x2="31.9" y1="127.55" y2="127.55" stroke="#777" stroke-width="0.8"/>
<text class="yl" transform="translate(24.2,127.55) rotate(-90)">0.66</text>
<line x1="59.95" x2="59.95" y1="131.5" y2="134.9" stroke="#777" stroke-width="0.8"/>
<text class="xl" x="59.95" y="143.9">-3</text>
<line x1="90.5" x2="90.5" y1="131.5" y2="134.9" stroke="#777" stroke-width="0.8"/>
<text class="xl" x="90.5" y="143.9">-2</text>
<line x1="121.05" x2="121.05" y1="131.5" y2="134.9" stroke="#777" stroke-width="0.8"/>
<text class="xl" x="121.05" y="143.9">-1</text>
<line x1="151.6" x2="151.6" y1="131.5" y2="134.9" stroke="#777" stroke-width="0.8"/>
<text class="xl" x="151.6" y="143.9">0</text>
<line x1="182.15" x2="182.15" y1="131.5" y2="134.9" stroke="#777" stroke-width="0.8"/>
<text class="xl" x="182.15" y="143.9">1</text>
<line x1="212.7" x2="212.7" y1="131.5" y2="134.9" stroke="#777" stroke-width="0.8"/>
<text class="xl" x="212.7" y="143.9">2</text>
<line x1="243.25" x2="243.25" y1="131.5" y2="134.9" stroke="#777" stroke-width="0.8"/>
<text class="xl" x="243.25" y="143.9">3</text>
<text class="xt" x="149.85" y="158.2">Log Odds Ratio</text>
<text class="yt" transform="translate(10.2,76.45) rotate(-90)">Inverse Standard Error</text>
<text class="ti" x="149.85" y="9.0">Inverse Standard Error</text>
<circle cx="152.49" cy="25.75" r="1.55"/>
<circle cx="152.49" cy="35.05" r="1.55"/>
<circle cx="152.61" cy="64.41" r="1.55"/>
<circle cx="150.71" cy="79.78" r="1.55"/>
<circle cx="149.8" cy="82.71" r="1.55"/>
<circle cx="149.8" cy="88.4" r="1.55"/>
<circle cx="155.69" cy="92.57" r="1.55"/>
<circle cx="149.31" cy="100.32" r="1.55"/>
<circle cx="147.41" cy="102.96" r="1.55"/>
<circle cx="145.89" cy="104.18" r="1.55"/>
<circle cx="141.4" cy="106.24" r="1.55"/>
<circle cx="146.1" cy="107.92" r="1.55"/>
<circle cx="151.69" cy="114.61" r="1.55"/>
<circle cx="132.11" cy="112.57" r="1.55"/>
<circle cx="133.61" cy="114.74" r="1.55"/>
<circle cx="137.21" cy="111.17" r="1.55"/>
<circle cx="139.5" cy="110.64" r="1.55"/>
<circle cx="139.5" cy="113.9" r="1.55"/>
<circle cx="118.79" cy="113.9" r="1.55"/>
<circle cx="115.61" cy="114.74" r="1.55"/>
<circle cx="115.89" cy="115.87" r="1.55"/>
<circle cx="119.52" cy="117.55" r="1.55"/>
<circle cx="113.81" cy="119.06" r="1.55"/>
<circle cx="170.11" cy="102.04" r="1.55"/>
<circle cx="164.89" cy="107.01" r="1.55"/>
<circle cx="164.31" cy="112.69" r="1.55"/>
<circle cx="162.11" cy="110.5" r="1.55"/>
<circle cx="162.11" cy="112.05" r="1.55"/>
<circle cx="167.09" cy="113.39" r="1.55"/>
<circle cx="169.11" cy="111.81" r="1.55"/>
<circle cx="162.6" cy="116.65" r="1.55"/>
<circle cx="177.2" cy="117.36" r="1.55"/>
<circle cx="166.88" cy="120.18" r="1.55"/>
<circle cx="189.3" cy="126.86" r="1.55"/>
<circle cx="187.5" cy="127.02" r="1.55"/>
<circle cx="192.69" cy="127.55" r="1.55"/>
</g>
<g transform="translate(278.6,174.25)">
<rect x="31.9" y="21.4" width="235.9" height="110.1" fill="#d3d3d3"/>
<line x1="31.9" x2="267.8" y1="25.75" y2="25.75" stroke="#f4f4f4" stroke-width="1"/>
<line x1="31.9" x2="267.8" y1="51.2" y2="51.2" stroke="#f4f4f4" stroke-width="1"/>
<line x1="31.9" x2="267.8" y1="76.65" y2="76.65" stroke="#f4f4f4" stroke-width="1"/>
<line x1="31.9" x2="267.8" y1="102.1" y2="102.1" stroke="#f4f4f4" stroke-width="1"/>
<line x1="31.9" x2="267.8" y1="127.55" y2="127.55" stroke="#f4f4f4" stroke-width="1"/>
<path d="M59.11,127.55 L59.81,127.55 L61.83,127.54 L64.9,127.53 L68.7,127.51 L72.92,127.48 L77.28,127.45 L81.59,127.42 L85.71,127.38 L89.6,127.34 L93.2,127.28 L96.51,127.23 L99.55,127.17 L102.33,127.1 L104.87,127.03 L107.19,126.95 L109.31,126.87 L111.25,126.78 L113.04,126.69 L114.68,126.59 L116.19,126.49 L117.59,126.38 L118.88,126.27 L120.08,126.15 L121.2,126.02 L122.24,125.89 L123.21,125.76 L124.12,125.62 L124.97,125.47 L125.76,125.32 L126.51,125.16 L127.22,125 L127.89,124.83 L128.52,124.66 L129.11,124.48 L129.68,124.3 L130.21,124.11 L130.72,123.92 L131.2,123.72 L131.66,123.51 L132.1,123.3 L132.52,123.09 L132.92,122.87 L133.3,122.64 L133.66,122.41 L134.01,122.18 L134.35,121.93 L134.67,121.69 L134.98,121.44 L135.28,121.18 L135.56,120.92 L135.84,120.65 L136.1,120.37 L136.35,120.1 L136.6,119.81 L136.84,119.52 L137.06,119.23 L137.29,118.93 L137.5,118.62 L137.71,118.31 L137.9,118 L138.1,117.68 L138.29,117.35 L138.47,117.02 L138.64,116.68 L138.81,116.34 L138.98,115.99 L139.14,115.64 L139.3,115.28 L139.45,114.92 L139.59,114.55 L139.74,114.17 L139.88,113.79 L140.01,113.41 L140.15,113.02 L140.27,112.62 L140.4,112.22 L140.52,111.82 L140.64,111.4 L140.76,110.99 L140.87,110.57 L140.98,110.14 L141.09,109.71 L141.19,109.27 L141.3,108.83 L141.4,108.38 L141.49,107.92 L141.59,107.46 L141.68,107 L141.77,106.53 L141.86,106.05 L141.95,105.57 L142.04,105.09 L142.12,104.6 L142.2,104.1 L142.28,103.6 L142.36,103.09 L142.44,102.58 L142.52,102.06 L142.59,101.54 L142.66,101.01 L142.73,100.48 L142.8,99.94 L142.87,99.4 L142.94,98.85 L143.01,98.29 L143.07,97.73 L143.13,97.17 L143.2,96.6 L143.26,96.02 L143.32,95.44 L143.38,94.85 L143.43,94.26 L143.49,93.66 L143.55,93.06 L143.6,92.45 L143.66,91.84 L143.71,91.22 L143.76,90.6 L143.81,89.97 L143.86,89.34 L143.91,88.7 L143.96,88.05 L144.01,87.4 L144.06,86.75 L144.1,86.09 L144.15,85.42 L144.19,84.75 L144.24,84.07 L144.28,83.39 L144.33,82.7 L144.37,82.01 L144.41,81.31 L144.45,80.61 L144.49,79.9 L144.53,79.19 L144.57,78.47 L144.61,77.74 L144.65,77.01 L144.69,76.28 L144.72,75.54 L144.76,74.79 L144.79,74.04 L144.83,73.28 L144.87,72.52 L144.9,71.75 L144.93,70.98 L144.97,70.21 L145,69.42 L145.03,68.63 L145.07,67.84 L145.1,67.04 L145.13,66.24 L145.16,65.43 L145.19,64.61 L145.22,63.79 L145.25,62.97 L145.28,62.14 L145.31,61.3 L145.34,60.46 L145.37,59.61 L145.4,58.76 L145.42,57.9 L145.45,57.04 L145.48,56.17 L145.5,55.3 L145.53,54.42 L145.56,53.54 L145.58,52.65 L145.61,51.76 L145.63,50.86 L145.66,49.95 L145.68,49.04 L145.71,48.13 L145.73,47.21 L145.76,46.28 L145.78,45.35 L145.8,44.41 L145.83,43.47 L145.85,42.52 L145.87,41.57 L145.89,40.61 L145.91,39.65 L145.94,38.68 L145.96,37.7 L145.98,36.73 L146,35.74 L146.02,34.75 L146.04,33.76 L146.06,32.76 L146.08,31.75 L146.1,30.74 L146.12,29.72 L146.14,28.7 L146.16,27.67 L146.18,26.64 L146.2,25.6 L146.22,24.56 L146.24,23.51 L146.25,22.46 L146.27,21.4 L153.53,21.4 L153.55,22.46 L153.56,23.51 L153.58,24.56 L153.6,25.6 L153.62,26.64 L153.64,27.67 L153.66,28.7 L153.68,29.72 L153.7,30.74 L153.72,31.75 L153.74,32.76 L153.76,33.76 L153.78,34.75 L153.8,35.74 L153.82,36.73 L153.84,37.7 L153.86,38.68 L153.89,39.65 L153.91,40.61 L153.93,41.57 L153.95,42.52 L153.97,43.47 L154,44.41 L154.02,45.35 L154.04,46.28 L154.07,47.21 L154.09,48.13 L154.12,49.04 L154.14,49.95 L154.17,50.86 L154.19,51.76 L154.22,52.65 L154.24,53.54 L154.27,54.42 L154.3,55.3 L154.32,56.17 L154.35,57.04 L154.38,57.9 L154.4,58.76 L154.43,59.61 L154.46,60.46 L154.49,61.3 L154.52,62.14 L154.55,62.97 L154.58,63.79 L154.61,64.61 L154.64,65.43 L154.67,66.24 L154.7,67.04 L154.73,67.84 L154.77,68.63 L154.8,69.42 L154.83,70.21 L154.87,70.98 L154.9,71.75 L154.93,72.52 L154.97,73.28 L155.01,74.04 L155.04,74.79 L155.08,75.54 L155.11,76.28 L155.15,77.01 L155.19,77.74 L155.23,78.47 L155.27,79.19 L155.31,79.9 L155.35,80.61 L155.39,81.31 L155.43,82.01 L155.47,82.7 L155.52,83.39 L155.56,84.07 L155.61,84.75 L155.65,85.42 L155.7,86.09 L155.74,86.75 L155.79,87.4 L155.84,88.05 L155.89,88.7 L155.94,89.34 L155.99,89.97 L156.04,90.6 L156.09,91.22 L156.14,91.84 L156.2,92.45 L156.25,93.06 L156.31,93.66 L156.37,94.26 L156.42,94.85 L156.48,95.44 L156.54,96.02 L156.6,96.6 L156.67,97.17 L156.73,97.73 L156.79,98.29 L156.86,98.85 L156.93,99.4 L157,99.94 L157.07,100.48 L157.14,101.01 L157.21,101.54 L157.28,102.06 L157.36,102.58 L157.44,103.09 L157.52,103.6 L157.6,104.1 L157.68,104.6 L157.76,105.09 L157.85,105.57 L157.94,106.05 L158.03,106.53 L158.12,107 L158.21,107.46 L158.31,107.92 L158.4,108.38 L158.5,108.83 L158.61,109.27 L158.71,109.71 L158.82,110.14 L158.93,110.57 L159.04,110.99 L159.16,111.4 L159.28,111.82 L159.4,112.22 L159.53,112.62 L159.65,113.02 L159.79,113.41 L159.92,113.79 L160.06,114.17 L160.21,114.55 L160.35,114.92 L160.5,115.28 L160.66,115.64 L160.82,115.99 L160.99,116.34 L161.16,116.68 L161.33,117.02 L161.51,117.35 L161.7,117.68 L161.9,118 L162.09,118.31 L162.3,118.62 L162.51,118.93 L162.74,119.23 L162.96,119.52 L163.2,119.81 L163.45,120.1 L163.7,120.37 L163.96,120.65 L164.24,120.92 L164.52,121.18 L164.82,121.44 L165.13,121.69 L165.45,121.93 L165.79,122.18 L166.14,122.41 L166.5,122.64 L166.88,122.87 L167.28,123.09 L167.7,123.3 L168.14,123.51 L168.6,123.72 L169.08,123.92 L169.59,124.11 L170.12,124.3 L170.69,124.48 L171.28,124.66 L171.91,124.83 L172.58,125 L173.29,125.16 L174.04,125.32 L174.83,125.47 L175.68,125.62 L176.59,125.76 L177.56,125.89 L178.6,126.02 L179.72,126.15 L180.92,126.27 L182.21,126.38 L183.61,126.49 L185.12,126.59 L186.76,126.69 L188.55,126.78 L190.49,126.87 L192.61,126.95 L194.93,127.03 L197.47,127.1 L200.25,127.17 L203.29,127.23 L206.6,127.28 L210.2,127.34 L214.09,127.38 L218.21,127.42 L222.52,127.45 L226.88,127.48 L231.1,127.51 L234.9,127.53 L237.97,127.54 L239.99,127.55 L240.69,127.55Z" fill="#fff"/>
<path d="M59.11,127.55 L59.81,127.55 L61.83,127.54 L64.9,127.53 L68.7,127.51 L72.92,127.48 L77.28,127.45 L81.59,127.42 L85.71,127.38 L89.6,127.34 L93.2,127.28 L96.51,127.23 L99.55,127.17 L102.33,127.1 L104.87,127.03 L107.19,126.95 L109.31,126.87 L111.25,126.78 L113.04,126.69 L114.68,126.59 L116.19,126.49 L117.59,126.38 L118.88,126.27 L120.08,126.15 L121.2,126.02 L122.24,125.89 L123.21,125.76 L124.12,125.62 L124.97,125.47 L125.76,125.32 L126.51,125.16 L127.22,125 L127.89,124.83 L128.52,124.66 L129.11,124.48 L129.68,124.3 L130.21,124.11 L130.72,123.92 L131.2,123.72 L131.66,123.51 L132.1,123.3 L132.52,123.09 L132.92,122.87 L133.3,122.64 L133.66,122.41 L134.01,122.18 L134.35,121.93 L134.67,121.69 L134.98,121.44 L135.28,121.18 L135.56,120.92 L135.84,120.65 L136.1,120.37 L136.35,120.1 L136.6,119.81 L136.84,119.52 L137.06,119.23 L137.29,118.93 L137.5,118.62 L137.71,118.31 L137.9,118 L138.1,117.68 L138.29,117.35 L138.47,117.02 L138.64,116.68 L138.81,116.34 L138.98,115.99 L139.14,115.64 L139.3,115.28 L139.45,114.92 L139.59,114.55 L139.74,114.17 L139.88,113.79 L140.01,113.41 L140.15,113.02 L140.27,112.62 L140.4,112.22 L140.52,111.82 L140.64,111.4 L140.76,110.99 L140.87,110.57 L140.98,110.14 L141.09,109.71 L141.19,109.27 L141.3,108.83 L141.4,108.38 L141.49,107.92 L141.59,107.46 L141.68,107 L141.77,106.53 L141.86,106.05 L141.95,105.57 L142.04,105.09 L142.12,104.6 L142.2,104.1 L142.28,103.6 L142.36,103.09 L142.44,102.58 L142.52,102.06 L142.59,101.54 L142.66,101.01 L142.73,100.48 L142.8,99.94 L142.87,99.4 L142.94,98.85 L143.01,98.29 L143.07,97.73 L143.13,97.17 L143.2,96.6 L143.26,96.02 L143.32,95.44 L143.38,94.85 L143.43,94.26 L143.49,93.66 L143.55,93.06 L143.6,92.45 L143.66,91.84 L143.71,91.22 L143.76,90.6 L143.81,89.97 L143.86,89.34 L143.91,88.7 L143.96,88.05 L144.01,87.4 L144.06,86.75 L144.1,86.09 L144.15,85.42 L144.19,84.75 L144.24,84.07 L144.28,83.39 L144.33,82.7 L144.37,82.01 L144.41,81.31 L144.45,80.61 L144.49,79.9 L144.53,79.19 L144.57,78.47 L144.61,77.74 L144.65,77.01 L144.69,76.28 L144.72,75.54 L144.76,74.79 L144.79,74.04 L144.83,73.28 L144.87,72.52 L144.9,71.75 L144.93,70.98 L144.97,70.21 L145,69.42 L145.03,68.63 L145.07,67.84 L145.1,67.04 L145.13,66.24 L145.16,65.43 L145.19,64.61 L145.22,63.79 L145.25,62.97 L145.28,62.14 L145.31,61.3 L145.34,60.46 L145.37,59.61 L145.4,58.76 L145.42,57.9 L145.45,57.04 L145.48,56.17 L145.5,55.3 L145.53,54.42 L145.56,53.54 L145.58,52.65 L145.61,51.76 L145.63,50.86 L145.66,49.95 L145.68,49.04 L145.71,48.13 L145.73,47.21 L145.76,46.28 L145.78,45.35 L145.8,44.41 L145.83,43.47 L145.85,42.52 L145.87,41.57 L145.89,40.61 L145.91,39.65 L145.94,38.68 L145.96,37.7 L145.98,36.73 L146,35.74 L146.02,34.75 L146.04,33.76 L146.06,32.76 L146.08,31.75 L146.1,30.74 L146.12,29.72 L146.14,28.7 L146.16,27.67 L146.18,26.64 L146.2,25.6 L146.22,24.56 L146.24,23.51 L146.25,22.46 L146.27,21.4" fill="none" stroke="#3a3a3a" stroke-width="0.95" stroke-dasharray="1,1.1"/>
<path d="M240.69,127.55 L239.99,127.55 L237.97,127.54 L234.9,127.53 L231.1,127.51 L226.88,127.48 L222.52,127.45 L218.21,127.42 L214.09,127.38 L210.2,127.34 L206.6,127.28 L203.29,127.23 L200.25,127.17 L197.47,127.1 L194.93,127.03 L192.61,126.95 L190.49,126.87 L188.55,126.78 L186.76,126.69 L185.12,126.59 L183.61,126.49 L182.21,126.38 L180.92,126.27 L179.72,126.15 L178.6,126.02 L177.56,125.89 L176.59,125.76 L175.68,125.62 L174.83,125.47 L174.04,125.32 L173.29,125.16 L172.58,125 L171.91,124.83 L171.28,124.66 L170.69,124.48 L170.12,124.3 L169.59,124.11 L169.08,123.92 L168.6,123.72 L168.14,123.51 L167.7,123.3 L167.28,123.09 L166.88,122.87 L166.5,122.64 L166.14,122.41 L165.79,122.18 L165.45,121.93 L165.13,121.69 L164.82,121.44 L164.52,121.18 L164.24,120.92 L163.96,120.65 L163.7,120.37 L163.45,120.1 L163.2,119.81 L162.96,119.52 L162.74,119.23 L162.51,118.93 L162.3,118.62 L162.09,118.31 L161.9,118 L161.7,117.68 L161.51,117.35 L161.33,117.02 L161.16,116.68 L160.99,116.34 L160.82,115.99 L160.66,115.64 L160.5,115.28 L160.35,114.92 L160.21,114.55 L160.06,114.17 L159.92,113.79 L159.79,113.41 L159.65,113.02 L159.53,112.62 L159.4,112.22 L159.28,111.82 L159.16,111.4 L159.04,110.99 L158.93,110.57 L158.82,110.14 L158.71,109.71 L158.61,109.27 L158.5,108.83 L158.4,108.38 L158.31,107.92 L158.21,107.46 L158.12,107 L158.03,106.53 L157.94,106.05 L157.85,105.57 L157.76,105.09 L157.68,104.6 L157.6,104.1 L157.52,103.6 L157.44,103.09 L157.36,102.58 L157.28,102.06 L157.21,101.54 L157.14,101.01 L157.07,100.48 L157,99.94 L156.93,99.4 L156.86,98.85 L156.79,98.29 L156.73,97.73 L156.67,97.17 L156.6,96.6 L156.54,96.02 L156.48,95.44 L156.42,94.85 L156.37,94.26 L156.31,93.66 L156.25,93.06 L156.2,92.45 L156.14,91.84 L156.09,91.22 L156.04,90.6 L155.99,89.97 L155.94,89.34 L155.89,88.7 L155.84,88.05 L155.79,87.4 L155.74,86.75 L155.7,86.09 L155.65,85.42 L155.61,84.75 L155.56,84.07 L155.52,83.39 L155.47,82.7 L155.43,82.01 L155.39,81.31 L155.35,80.61 L155.31,79.9 L155.27,79.19 L155.23,78.47 L155.19,77.74 L155.15,77.01 L155.11,76.28 L155.08,75.54 L155.04,74.79 L155.01,74.04 L154.97,73.28 L154.93,72.52 L154.9,71.75 L154.87,70.98 L154.83,70.21 L154.8,69.42 L154.77,68.63 L154.73,67.84 L154.7,67.04 L154.67,66.24 L154.64,65.43 L154.61,64.61 L154.58,63.79 L154.55,62.97 L154.52,62.14 L154.49,61.3 L154.46,60.46 L154.43,59.61 L154.4,58.76 L154.38,57.9 L154.35,57.04 L154.32,56.17 L154.3,55.3 L154.27,54.42 L154.24,53.54 L154.22,52.65 L154.19,51.76 L154.17,50.86 L154.14,49.95 L154.12,49.04 L154.09,48.13 L154.07,47.21 L154.04,46.28 L154.02,45.35 L154,44.41 L153.97,43.47 L153.95,42.52 L153.93,41.57 L153.91,40.61 L153.89,39.65 L153.86,38.68 L153.84,37.7 L153.82,36.73 L153.8,35.74 L153.78,34.75 L153.76,33.76 L153.74,32.76 L153.72,31.75 L153.7,30.74 L153.68,29.72 L153.66,28.7 L153.64,27.67 L153.62,26.64 L153.6,25.6 L153.58,24.56 L153.56,23.51 L153.55,22.46 L153.53,21.4" fill="none" stroke="#3a3a3a" stroke-width="0.95" stroke-dasharray="1,1.1"/>
<line x1="149.9" x2="149.9" y1="21.4" y2="127.55" stroke="#555" stroke-width="0.8" stroke-dasharray="0.8,1.2"/>
<path d="M31.9,21.4 L31.9,131.5 L267.8,131.5" fill="none" stroke="#6c6c6c" stroke-width="1.15"/>
<line x1="28.5" x2="31.9" y1="25.75" y2="25.75" stroke="#777" stroke-width="0.8"/>
<text class="yl" transform="translate(24.2,25.75) rotate(-90)">261.333</text>
<line x1="28.5" x2="31.9" y1="51.2" y2="51.2" stroke="#777" stroke-width="0.8"/>
<line x1="28.5" x2="31.9" y1="76.65" y2="76.65" stroke="#777" stroke-width="0.8"/>
<text class="yl" transform="translate(24.2,76.65) rotate(-90)">130.884</text>
<line x1="28.5" x2="31.9" y1="102.1" y2="102.1" stroke="#777" stroke-width="0.8"/>
<text class="yl" transform="translate(24.2,102.1) rotate(-90)">65.66</text>
<line x1="28.5" x2="31.9" y1="127.55" y2="127.55" stroke="#777" stroke-width="0.8"/>
<text class="yl" transform="translate(24.2,127.55) rotate(-90)">0.435</text>
<line x1="59.95" x2="59.95" y1="131.5" y2="134.9" stroke="#777" stroke-width="0.8"/>
<text class="xl" x="59.95" y="143.9">-3</text>
<line x1="90.5" x2="90.5" y1="131.5" y2="134.9" stroke="#777" stroke-width="0.8"/>
<text class="xl" x="90.5" y="143.9">-2</text>
<line x1="121.05" x2="121.05" y1="131.5" y2="134.9" stroke="#777" stroke-width="0.8"/>
<text class="xl" x="121.05" y="143.9">-1</text>
<line x1="151.6" x2="151.6" y1="131.5" y2="134.9" stroke="#777" stroke-width="0.8"/>
<text class="xl" x="151.6" y="143.9">0</text>
<line x1="182.15" x2="182.15" y1="131.5" y2="134.9" stroke="#777" stroke-width="0.8"/>
<text class="xl" x="182.15" y="143.9">1</text>
<line x1="212.7" x2="212.7" y1="131.5" y2="134.9" stroke="#777" stroke-width="0.8"/>
<text class="xl" x="212.7" y="143.9">2</text>
<line x1="243.25" x2="243.25" y1="131.5" y2="134.9" stroke="#777" stroke-width="0.8"/>
<text class="xl" x="243.25" y="143.9">3</text>
<text class="xt" x="149.85" y="158.2">Log Odds Ratio</text>
<text class="yt" transform="translate(10.2,76.45) rotate(-90)">Inverse Variance</text>
<text class="ti" x="149.85" y="9.0">Inverse Sampling Variance</text>
<circle cx="152.49" cy="25.75" r="1.55"/>
<circle cx="152.49" cy="42.84" r="1.55"/>
<circle cx="152.61" cy="86.51" r="1.55"/>
<circle cx="150.71" cy="103.14" r="1.55"/>
<circle cx="149.8" cy="105.83" r="1.55"/>
<circle cx="149.8" cy="110.61" r="1.55"/>
<circle cx="155.69" cy="113.73" r="1.55"/>
<circle cx="149.31" cy="118.7" r="1.55"/>
<circle cx="147.41" cy="120.15" r="1.55"/>
<circle cx="145.89" cy="120.77" r="1.55"/>
<circle cx="141.4" cy="121.77" r="1.55"/>
<circle cx="146.1" cy="122.52" r="1.55"/>
<circle cx="151.69" cy="125.02" r="1.55"/>
<circle cx="132.11" cy="124.34" r="1.55"/>
<circle cx="133.61" cy="125.06" r="1.55"/>
<circle cx="137.21" cy="123.84" r="1.55"/>
<circle cx="139.5" cy="123.63" r="1.55"/>
<circle cx="139.5" cy="124.79" r="1.55"/>
<circle cx="118.79" cy="124.79" r="1.55"/>
<circle cx="115.61" cy="125.06" r="1.55"/>
<circle cx="115.89" cy="125.4" r="1.55"/>
<circle cx="119.52" cy="125.86" r="1.55"/>
<circle cx="113.81" cy="126.23" r="1.55"/>
<circle cx="170.11" cy="119.66" r="1.55"/>
<circle cx="164.89" cy="122.12" r="1.55"/>
<circle cx="164.31" cy="124.38" r="1.55"/>
<circle cx="162.11" cy="123.58" r="1.55"/>
<circle cx="162.11" cy="124.16" r="1.55"/>
<circle cx="167.09" cy="124.62" r="1.55"/>
<circle cx="169.11" cy="124.07" r="1.55"/>
<circle cx="162.6" cy="125.62" r="1.55"/>
<circle cx="177.2" cy="125.81" r="1.55"/>
<circle cx="166.88" cy="126.48" r="1.55"/>
<circle cx="189.3" cy="127.49" r="1.55"/>
<circle cx="187.5" cy="127.51" r="1.55"/>
<circle cx="192.69" cy="127.55" r="1.55"/>
</g>
</svg>
</body></html>
